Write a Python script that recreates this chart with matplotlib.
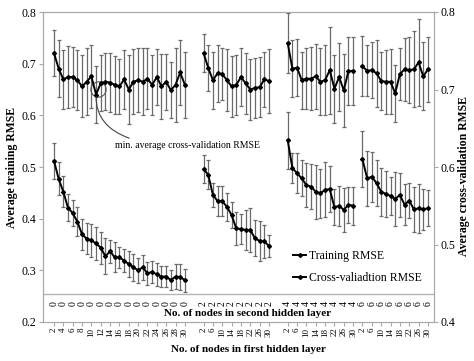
import numpy as np
import matplotlib
matplotlib.use('Agg')
import matplotlib.pyplot as plt
from matplotlib.lines import Line2D

plt.rcParams['font.family'] = ['Liberation Serif', 'DejaVu Serif']

# nodes in second hidden layer (one group each) and nodes in first hidden layer
second_layer = [0, 2, 4, 6]
first_layer = [list(range(2, 31)), list(range(2, 31, 2)),
               list(range(2, 31, 2)), list(range(2, 31, 2))]
gaps = [0, 3, 3, 1]  # empty category slots before each group

# average training RMSE (left axis) and its spread
train = [
    [0.512, 0.477, 0.452, 0.421, 0.411, 0.394, 0.370, 0.361, 0.358, 0.352,
     0.344, 0.327, 0.337, 0.325, 0.325, 0.319, 0.312, 0.306, 0.300, 0.306,
     0.294, 0.297, 0.292, 0.288, 0.288, 0.281, 0.288, 0.287, 0.281],
    [0.496, 0.485, 0.446, 0.434, 0.434, 0.423, 0.407, 0.381, 0.380, 0.378,
     0.378, 0.362, 0.357, 0.356, 0.347],
    [0.552, 0.498, 0.488, 0.478, 0.465, 0.462, 0.452, 0.449, 0.456, 0.457,
     0.422, 0.425, 0.417, 0.427, 0.425],
    [0.515, 0.478, 0.481, 0.469, 0.452, 0.448, 0.444, 0.438, 0.446, 0.427,
     0.435, 0.418, 0.420, 0.418, 0.420],
]
train_err = [
    [0.035, 0.032, 0.030, 0.026, 0.026, 0.028, 0.030, 0.030, 0.032, 0.032,
     0.031, 0.035, 0.022, 0.029, 0.021, 0.023, 0.025, 0.026, 0.024, 0.024,
     0.022, 0.021, 0.022, 0.021, 0.021, 0.019, 0.024, 0.026, 0.022],
    [0.027, 0.028, 0.024, 0.029, 0.029, 0.027, 0.026, 0.032, 0.029, 0.039,
     0.042, 0.035, 0.039, 0.032, 0.021],
    [0.055, 0.029, 0.039, 0.035, 0.042, 0.043, 0.052, 0.048, 0.053, 0.045,
     0.035, 0.039, 0.042, 0.035, 0.037],
    [0.054, 0.053, 0.048, 0.044, 0.047, 0.045, 0.037, 0.053, 0.042, 0.040,
     0.034, 0.044, 0.048, 0.040, 0.035],
]

# average cross-validation RMSE (right axis) and its spread
cv = [
    [0.747, 0.727, 0.713, 0.716, 0.716, 0.712, 0.704, 0.710, 0.717, 0.6935,
     0.708, 0.710, 0.709, 0.706, 0.704, 0.713, 0.700, 0.710, 0.712, 0.710,
     0.714, 0.706, 0.716, 0.704, 0.710, 0.699, 0.706, 0.722, 0.706],
    [0.747, 0.728, 0.712, 0.721, 0.720, 0.712, 0.704, 0.706, 0.716, 0.708,
     0.700, 0.702, 0.703, 0.713, 0.711],
    [0.760, 0.727, 0.728, 0.712, 0.714, 0.714, 0.717, 0.710, 0.712, 0.725,
     0.701, 0.716, 0.699, 0.724, 0.724],
    [0.730, 0.724, 0.725, 0.721, 0.711, 0.710, 0.710, 0.695, 0.720, 0.726,
     0.725, 0.726, 0.735, 0.717, 0.726],
]
cv_err = [
    [0.030, 0.037, 0.038, 0.040, 0.039, 0.039, 0.040, 0.043, 0.041, 0.037,
     0.036, 0.037, 0.038, 0.037, 0.036, 0.038, 0.044, 0.042, 0.041, 0.043,
     0.039, 0.039, 0.036, 0.042, 0.036, 0.036, 0.048, 0.042, 0.043],
    [0.024, 0.030, 0.037, 0.037, 0.034, 0.040, 0.039, 0.039, 0.037, 0.039,
     0.039, 0.039, 0.039, 0.036, 0.041],
    [0.039, 0.037, 0.037, 0.037, 0.039, 0.041, 0.042, 0.043, 0.045, 0.056,
     0.044, 0.044, 0.047, 0.044, 0.044],
    [0.039, 0.033, 0.036, 0.043, 0.038, 0.041, 0.042, 0.037, 0.033, 0.041,
     0.043, 0.049, 0.056, 0.044, 0.042],
]

# category positions of each group
pos = []
start = 0
for g, n in zip(gaps, first_layer):
    start += g
    pos.append(np.arange(start, start + len(n)))
    start += len(n)

fig = plt.figure(figsize=(4.74, 3.61), dpi=100)
ax = fig.add_axes([43 / 474, 39 / 361, 391 / 474, 310 / 361])
ax2 = ax.twinx()

style = dict(color='black', ecolor='#6a6a6a', elinewidth=0.9, capsize=1.6,
             capthick=0.9, lw=1.4, marker='D', ms=2.0)
for i in range(4):
    ax.errorbar(pos[i], train[i], yerr=train_err[i], **style)
    ax2.errorbar(pos[i], cv[i], yerr=cv_err[i], **style)

ax.set_xlim(-2.35, 81.3)
ax.set_ylim(0.2, 0.8)
ax2.set_ylim(0.4, 0.8)
ax.set_yticks(np.arange(0.2, 0.81, 0.1))
ax.set_yticklabels(['%.1f' % v for v in np.arange(0.2, 0.81, 0.1)])
ax2.set_yticks(np.arange(0.4, 0.81, 0.1))
ax2.set_yticklabels(['%.1f' % v for v in np.arange(0.4, 0.81, 0.1)])

# first layer labels on the axis, second layer labels in the band above it
xt, xl = [], []
for i in range(4):
    for p, n in zip(pos[i][::2], first_layer[i][::2]):
        xt.append(p)
        xl.append(str(n))
        ax.text(p, 0.235, str(second_layer[i]), rotation=90, ha='center',
                va='center', fontsize=7)
ax.set_xticks(xt)
ax.set_xticklabels(xl, rotation=90, fontsize=6.5)
ax.axhline(0.254, color='#b4b4b4', lw=1.0)

for a in (ax, ax2):
    for s in a.spines.values():
        s.set_color('#a8a8a8')
    a.tick_params(axis='y', labelsize=8.5, color='#a8a8a8', length=3, pad=2)
ax.tick_params(axis='x', color='#a8a8a8', length=3, pad=1)

fig.text(12 / 474, 1 - 168 / 361, 'Average training RMSE', rotation=90,
         ha='center', va='center', fontsize=8.5, fontweight='bold')
fig.text(464 / 474, 1 - 176 / 361, 'Average cross-validation RMSE', rotation=90,
         ha='center', va='center', fontsize=8.5, fontweight='bold')
fig.text(248 / 474, 1 - 314 / 361, 'No. of nodes in second hidden layer',
         ha='center', va='center', fontsize=8, fontweight='bold')
fig.text(248 / 474, 1 - 350 / 361, 'No. of nodes in first hidden layer',
         ha='center', va='center', fontsize=8, fontweight='bold')

# mark the minimum cross-validation error
k = int(np.argmin(cv[0]))
xm, ym = pos[0][k], cv[0][k]
ax2.plot(xm + 0.4, ym + 0.007, 'o', ms=11, mfc='none', mec='#555555', mew=0.8)
ax2.annotate('min. average cross-validation RMSE', xy=(xm, ym - 0.003),
             xytext=(0.184, 0.568), textcoords='axes fraction',
             ha='left', va='center', fontsize=7,
             arrowprops=dict(arrowstyle='-', color='#444444', lw=0.8,
                             connectionstyle='angle3,angleA=0,angleB=90',
                             shrinkA=1, shrinkB=0))

handles = [Line2D([], [], color='black', marker='D', ms=2.0, lw=1.4) for _ in range(2)]
ax2.legend(handles, ['Training RMSE', 'Cross-valiadtion RMSE'], loc='center left',
           bbox_to_anchor=(0.64, 0.176), frameon=False, fontsize=8.5,
           handlelength=1.1, handletextpad=0.25, labelspacing=0.85,
           borderpad=0, borderaxespad=0)

fig.savefig('out.png', dpi=100)
